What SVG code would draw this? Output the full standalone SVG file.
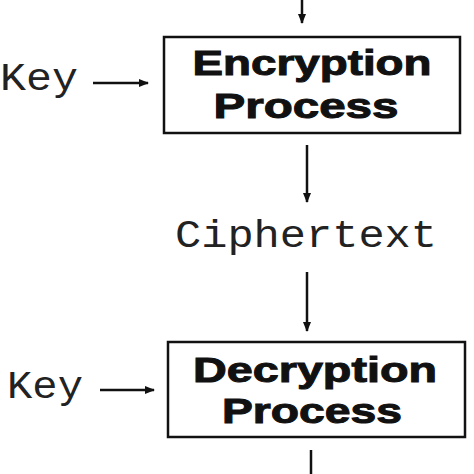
<svg xmlns="http://www.w3.org/2000/svg" width="474" height="474" viewBox="0 0 474 474">
<defs>
<style>
.box{fill:#fff;stroke:#111;stroke-width:2.5}
.bold{font-family:"Liberation Sans",Arial,sans-serif;font-weight:bold;font-size:35px;fill:#111;stroke:#111;stroke-width:1;text-anchor:middle}
.mono{font-family:"Liberation Mono","Courier New",monospace;font-size:38px;fill:#222}
.conn{stroke:#111;stroke-width:2.5;fill:none}
</style>
<marker id="ah" viewBox="0 0 10 10" refX="9" refY="5" markerWidth="4" markerHeight="4" orient="auto" markerUnits="strokeWidth">
<path d="M0,1 L10,5 L0,9 z" fill="#111"/>
</marker>
</defs>
<rect width="474" height="474" fill="#fff"/>
<g id="connectors">
<line class="conn" x1="302" y1="0" x2="302" y2="23" marker-end="url(#ah)"/>
<line class="conn" x1="93" y1="83" x2="148" y2="83" marker-end="url(#ah)"/>
<line class="conn" x1="307" y1="145" x2="307" y2="202" marker-end="url(#ah)"/>
<line class="conn" x1="307" y1="272" x2="307" y2="331" marker-end="url(#ah)"/>
<line class="conn" x1="100" y1="390" x2="154" y2="390" marker-end="url(#ah)"/>
<line class="conn" x1="311" y1="450" x2="311" y2="474"/>
</g>
<g id="key1"><text class="mono" x="0" y="90" textLength="78" lengthAdjust="spacingAndGlyphs">Key</text></g>
<g id="encryption">
<rect class="box" x="164" y="37" width="296" height="96"/>
<text class="bold" x="312" y="75" textLength="239" lengthAdjust="spacingAndGlyphs">Encryption</text>
<text class="bold" x="306" y="118" textLength="185" lengthAdjust="spacingAndGlyphs">Process</text>
</g>
<g id="ciphertext"><text class="mono" x="175" y="247" textLength="262" lengthAdjust="spacingAndGlyphs">Ciphertext</text></g>
<g id="key2"><text class="mono" x="7" y="398" textLength="76" lengthAdjust="spacingAndGlyphs">Key</text></g>
<g id="decryption">
<rect class="box" x="168" y="342" width="297" height="95"/>
<text class="bold" x="315" y="382" textLength="244" lengthAdjust="spacingAndGlyphs">Decryption</text>
<text class="bold" x="312" y="423" textLength="180" lengthAdjust="spacingAndGlyphs">Process</text>
</g>
</svg>
